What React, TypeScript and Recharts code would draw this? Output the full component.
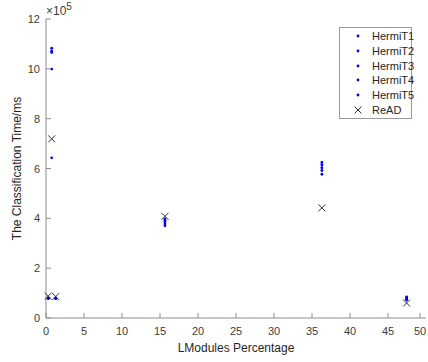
import { ScatterChart, Scatter, XAxis, YAxis, Legend } from 'recharts';

// LModules percentage for each test case
const xPercent = [0.3, 0.75, 1.28, 15.65, 36.3, 47.45];

// classification time (ms)
const hermiT1 = [80000, 1083000, 80000, 398000, 624000, 85000];
const hermiT2 = [78000, 1072000, 79000, 392000, 614000, 80000];
const hermiT3 = [80000, 1066000, 80000, 385000, 603000, 78000];
const hermiT4 = [79000, 999000, 78000, 378000, 592000, 75000];
const hermiT5 = [80000, 643000, 80000, 370000, 577000, 72000];
const readTimes = [88000, 719000, 86000, 408000, 442000, 60000];

const xTicks = [0, 5, 10, 15, 20, 25, 30, 35, 40, 45, 50];
const yTicks = [0, 200000, 400000, 600000, 800000, 1000000, 1200000];

const FONT = '"Liberation Sans", Arial, Helvetica, sans-serif';
const AXIS = '#8c8c8c';
const TEXT = '#3c3c3c';
const BLUE = '#0000ff';
const TICK_LEN = 5;

const toPoints = (values: number[]) =>
  xPercent.map((x, i) => ({ x, y: values[i] }));

const hermitSeries = [
  { name: 'HermiT1', data: toPoints(hermiT1) },
  { name: 'HermiT2', data: toPoints(hermiT2) },
  { name: 'HermiT3', data: toPoints(hermiT3) },
  { name: 'HermiT4', data: toPoints(hermiT4) },
  { name: 'HermiT5', data: toPoints(hermiT5) },
];

// ticks point inward like MATLAB
function BottomTick({ x, y, payload }: any) {
  return (
    <g>
      <line x1={x} y1={y} x2={x} y2={y - TICK_LEN} stroke={AXIS} />
      <text x={x} y={y + 17} textAnchor="middle" fontSize={11} fill={TEXT} fontFamily={FONT}>
        {payload.value}
      </text>
    </g>
  );
}

function LeftTick({ x, y, payload }: any) {
  return (
    <g>
      <line x1={x} y1={y} x2={x + TICK_LEN} y2={y} stroke={AXIS} />
      <text x={x - 6} y={y + 4} textAnchor="end" fontSize={11} fill={TEXT} fontFamily={FONT}>
        {payload.value / 100000}
      </text>
    </g>
  );
}

function TopTick({ x, y }: any) {
  return <line x1={x} y1={y} x2={x} y2={y + TICK_LEN} stroke={AXIS} />;
}

function RightTick({ x, y }: any) {
  return <line x1={x} y1={y} x2={x - TICK_LEN} y2={y} stroke={AXIS} />;
}

const Dot = ({ cx, cy }: any) => <circle cx={cx} cy={cy} r={1.4} fill={BLUE} />;

const Cross = ({ cx, cy }: any) => (
  <g stroke="#333" strokeWidth={1}>
    <line x1={cx - 3.5} y1={cy - 3.5} x2={cx + 3.5} y2={cy + 3.5} />
    <line x1={cx - 3.5} y1={cy + 3.5} x2={cx + 3.5} y2={cy - 3.5} />
  </g>
);

function LegendBox({ payload }: any) {
  return (
    <div
      style={{
        border: '1px solid #9a9a9a',
        background: '#fff',
        padding: '1px 0',
        fontFamily: FONT,
        fontSize: 11,
        color: '#262626',
      }}
    >
      {(payload || []).map((entry: any) => (
        <div key={entry.value} style={{ display: 'flex', alignItems: 'center', height: 14.7 }}>
          <svg width={32} height={14} style={{ flex: 'none' }}>
            {entry.value === 'ReAD' ? (
              <g stroke="#333">
                <line x1={14.5} y1={3.5} x2={21.5} y2={10.5} />
                <line x1={14.5} y1={10.5} x2={21.5} y2={3.5} />
              </g>
            ) : (
              <circle cx={18} cy={7} r={1.4} fill={BLUE} />
            )}
          </svg>
          <span>{entry.value}</span>
        </div>
      ))}
    </div>
  );
}

export default function App() {
  return (
    <div style={{ position: 'absolute', left: 0, top: 0, width: 428, height: 362, background: '#fff' }}>
      <ScatterChart width={428} height={362} margin={{ top: 19, right: 2, bottom: 0, left: 0 }}>
        <XAxis
          type="number"
          dataKey="x"
          domain={[0, 50]}
          ticks={xTicks}
          height={44}
          stroke={AXIS}
          tickLine={false}
          tickSize={0}
          tickMargin={0}
          tick={<BottomTick />}
          label={({ viewBox }: any) => (
            <text
              x={viewBox.x + viewBox.width / 2}
              y={352}
              textAnchor="middle"
              fontSize={12}
              fill="#262626"
              fontFamily={FONT}
            >
              LModules Percentage
            </text>
          )}
        />
        <XAxis
          xAxisId="top"
          orientation="top"
          type="number"
          dataKey="x"
          domain={[0, 50]}
          ticks={xTicks}
          height={0}
          stroke={AXIS}
          tickLine={false}
          tickSize={0}
          tickMargin={0}
          tick={<TopTick />}
        />
        <YAxis
          type="number"
          dataKey="y"
          domain={[0, 1200000]}
          ticks={yTicks}
          width={46}
          stroke={AXIS}
          tickLine={false}
          tickSize={0}
          tickMargin={0}
          tick={<LeftTick />}
          label={({ viewBox }: any) => {
            const cy = viewBox.y + viewBox.height / 2;
            return (
              <text
                x={21}
                y={cy}
                transform={`rotate(-90, 21, ${cy})`}
                textAnchor="middle"
                fontSize={12}
                fill="#262626"
                fontFamily={FONT}
              >
                The Classification Time/ms
              </text>
            );
          }}
        />
        <YAxis
          yAxisId="right"
          orientation="right"
          type="number"
          dataKey="y"
          domain={[0, 1200000]}
          ticks={yTicks}
          width={0}
          stroke={AXIS}
          tickLine={false}
          tickSize={0}
          tickMargin={0}
          tick={<RightTick />}
        />
        <Legend
          layout="vertical"
          align="center"
          verticalAlign="middle"
          wrapperStyle={{ left: 339, top: 27, width: 73 }}
          content={<LegendBox />}
        />
        {hermitSeries.map((s) => (
          <Scatter
            key={s.name}
            name={s.name}
            data={s.data}
            fill={BLUE}
            shape={<Dot />}
            isAnimationActive={false}
          />
        ))}
        <Scatter
          name="ReAD"
          data={toPoints(readTimes)}
          fill="#333"
          shape={<Cross />}
          isAnimationActive={false}
        />
      </ScatterChart>
      <div
        style={{
          position: 'absolute',
          left: 46,
          top: 5,
          fontFamily: FONT,
          fontSize: 12,
          lineHeight: '12px',
          color: TEXT,
          whiteSpace: 'nowrap',
        }}
      >
        ×10
        <span style={{ fontSize: 10, position: 'relative', top: -5 }}>5</span>
      </div>
    </div>
  );
}
